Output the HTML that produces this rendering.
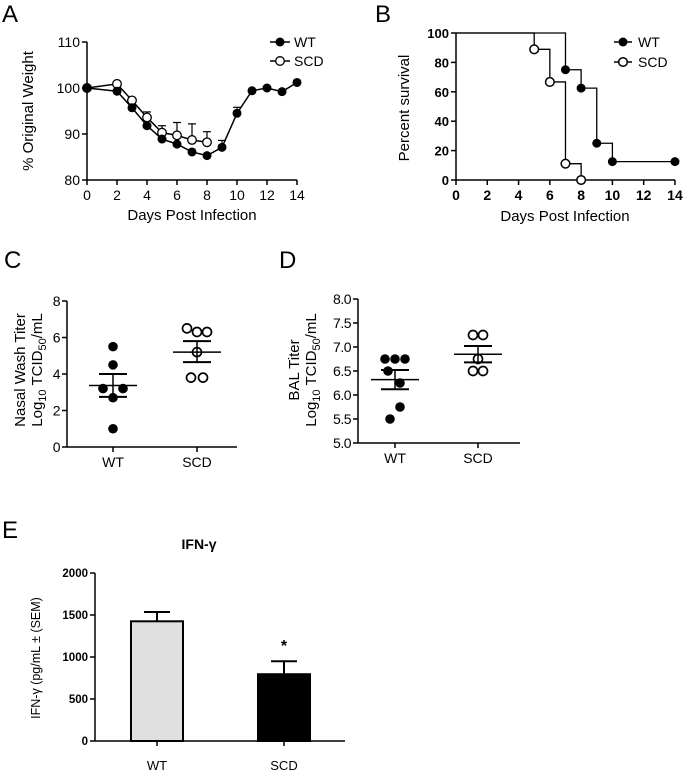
<!DOCTYPE html>
<html><head><meta charset="utf-8">
<style>
html,body{margin:0;padding:0;background:#fff;}
svg{display:block;font-family:"Liberation Sans",sans-serif;}
</style></head>
<body>
<svg id="fig" width="685" height="771" viewBox="0 0 685 771" xmlns="http://www.w3.org/2000/svg">
<g id="pA"></g>
<g id="pB"></g>
<g id="pC"></g>
<g id="pD"></g>
<g id="pE"></g>
</svg>
<script>
// Panel A data
const aDays=[0,2,3,4,5,6,7,8,9,10,11,12,13,14];
const aWT=[100,99.3,95.7,91.8,88.9,87.8,86.1,85.3,87.1,94.5,99.4,100,99.2,101.2];
const aWTerr=[0,0,0,0,0,0,0,0,1.5,1.3,0,0,0,0];
const aSCDdays=[0,2,3,4,5,6,7,8];
const aSCD=[100,100.9,97.3,93.6,90.3,89.7,88.7,88.2];
const aSCDerr=[0,0,0,1.2,1.5,2.8,3.5,2.3];
const aYTicks=[80,90,100,110];
const aXTicks=[0,2,4,6,8,10,12,14];
// Panel B data
const bWTdays=[0,7,8,9,10,14];
const bWT=[100,75,62.5,25,12.5,12.5];
const bSCDdays=[0,5,6,7,8];
const bSCD=[100,88.9,66.7,11.1,0];
const bYTicks=[0,20,40,60,80,100];
const bXTicks=[0,2,4,6,8,10,12,14];
// Panel C data
const cWT=[5.5,4.5,3.2,3.2,2.7,1.0];
const cWToff=[0,0,-1,1,0,0];
const cWTstats=[3.37,4.0,2.75];
const cSCD=[6.5,6.3,6.3,5.2,3.8,3.8];
const cSCDoff=[-1,0,1,0,-0.6,0.6];
const cSCDstats=[5.2,5.8,4.65];
const cYTicks=[0,2,4,6,8];
// Panel D data
const dWT=[6.75,6.75,6.75,6.5,6.25,5.75,5.5];
const dWToff=[-1,0,1,-0.7,0.5,0.5,-0.5];
const dWTstats=[6.32,6.52,6.12];
const dSCD=[7.25,7.25,6.75,6.5,6.5];
const dSCDoff=[-0.5,0.5,0,-0.5,0.5];
const dSCDstats=[6.85,7.02,6.68];
const dYTicks=[5.0,5.5,6.0,6.5,7.0,7.5,8.0];
// Panel E data
const eCats=["WT","SCD"];
const eVals=[1425,795];
const eErr=[110,155];
const eYTicks=[0,500,1000,1500,2000];

const NS="http://www.w3.org/2000/svg";
function el(p,tag,attrs,text){const e=document.createElementNS(NS,tag);for(const k in attrs)e.setAttribute(k,attrs[k]);if(text!==undefined)e.textContent=text;p.appendChild(e);return e;}
function line(p,x1,y1,x2,y2,w){return el(p,'line',{x1,y1,x2,y2,stroke:'#000','stroke-width':w||1.5});}

// ---------- Panel A ----------
(function(){
const g=document.getElementById('pA');
const X=d=>87+d*15, Y=v=>180-(v-80)*4.6;
let t=el(g,'text',{x:2,y:22,'font-size':24},'A');

line(g,87,42,87,180);line(g,87,180,297,180);
aYTicks.forEach(v=>{line(g,82,Y(v),87,Y(v));let tt=el(g,'text',{x:80,y:Y(v)+5,'font-size':14,'text-anchor':'end'},v);});
aXTicks.forEach(v=>{line(g,X(v),180,X(v),185);let tt=el(g,'text',{x:X(v),y:200,'font-size':14,'text-anchor':'middle'},v);});
t=el(g,'text',{x:192,y:220,'font-size':15,'text-anchor':'middle'},'Days Post Infection');

t=el(g,'text',{x:0,y:0,'font-size':15,'text-anchor':'middle',transform:'translate(33,111) rotate(-90)'},'% Original  Weight');

aSCDdays.forEach((d,i)=>{if(aSCDerr[i]>0){line(g,X(d),Y(aSCD[i]),X(d),Y(aSCD[i]+aSCDerr[i]),1.2);line(g,X(d)-4,Y(aSCD[i]+aSCDerr[i]),X(d)+4,Y(aSCD[i]+aSCDerr[i]),1.2);}});
aDays.forEach((d,i)=>{if(aWTerr[i]>0){line(g,X(d),Y(aWT[i]),X(d),Y(aWT[i]+aWTerr[i]),1.2);line(g,X(d)-4,Y(aWT[i]+aWTerr[i]),X(d)+4,Y(aWT[i]+aWTerr[i]),1.2);}});
let p=el(g,'polyline',{points:aSCDdays.map((d,i)=>X(d)+','+Y(aSCD[i])).join(' '),fill:'none',stroke:'#000','stroke-width':1.5});

p=el(g,'polyline',{points:aDays.map((d,i)=>X(d)+','+Y(aWT[i])).join(' '),fill:'none',stroke:'#000','stroke-width':1.5});

aSCDdays.forEach((d,i)=>{const c=el(g,'circle',{cx:X(d),cy:Y(aSCD[i]),r:4.3,fill:'#fff',stroke:'#000','stroke-width':1.3});});
aDays.forEach((d,i)=>{const c=el(g,'circle',{cx:X(d),cy:Y(aWT[i]),r:4.5,fill:'#000'});});
line(g,270,42,290,42);el(g,'circle',{cx:280,cy:42,r:4.5,fill:'#000'});
t=el(g,'text',{x:294,y:47,'font-size':14},'WT');
line(g,270,61,290,61);el(g,'circle',{cx:280,cy:61,r:4.3,fill:'#fff',stroke:'#000','stroke-width':1.3});
t=el(g,'text',{x:294,y:66,'font-size':14},'SCD');
})();

// ---------- Panel B ----------
(function(){
const g=document.getElementById('pB');
const X=d=>456+d*15.64, Y=v=>180-v*1.47;
let t=el(g,'text',{x:375,y:22,'font-size':24},'B');

line(g,456,33,456,180);line(g,456,180,675,180);
bYTicks.forEach(v=>{line(g,451,Y(v),456,Y(v));let tt=el(g,'text',{x:449,y:Y(v)+5,'font-size':13,'font-weight':'bold','text-anchor':'end'},v);});
bXTicks.forEach(v=>{line(g,X(v),180,X(v),185);let tt=el(g,'text',{x:X(v),y:200,'font-size':14,'font-weight':'bold','text-anchor':'middle'},v);});
t=el(g,'text',{x:565,y:221,'font-size':15,'text-anchor':'middle'},'Days Post Infection');

t=el(g,'text',{x:0,y:0,'font-size':15,'text-anchor':'middle',transform:'translate(409,108) rotate(-90)'},'Percent survival');

function steps(days,vals){let pts=[X(days[0])+','+Y(vals[0])];for(let i=1;i<days.length;i++){pts.push(X(days[i])+','+Y(vals[i-1]));pts.push(X(days[i])+','+Y(vals[i]));}return pts.join(' ');}
let p=el(g,'polyline',{points:steps(bWTdays,bWT),fill:'none',stroke:'#000','stroke-width':1.3});
p=el(g,'polyline',{points:steps(bSCDdays,bSCD),fill:'none',stroke:'#000','stroke-width':1.3});
bWTdays.forEach((d,i)=>{if(i>0){const c=el(g,'circle',{cx:X(d),cy:Y(bWT[i]),r:4.5,fill:'#000'});}});
bSCDdays.forEach((d,i)=>{if(i>0){const c=el(g,'circle',{cx:X(d),cy:Y(bSCD[i]),r:4.3,fill:'#fff',stroke:'#000','stroke-width':1.5});}});
line(g,614,42,632,42);el(g,'circle',{cx:623,cy:42,r:4.5,fill:'#000'});
t=el(g,'text',{x:638,y:47,'font-size':14},'WT');
line(g,614,62,632,62);el(g,'circle',{cx:623,cy:62,r:4.3,fill:'#fff',stroke:'#000','stroke-width':1.5});
t=el(g,'text',{x:638,y:67,'font-size':14},'SCD');
})();

// ---------- Scatter helper ----------
function scatter(g,opt){
const Y=v=>opt.y0-(v-opt.vmin)*opt.scale;
line(g,opt.ax,opt.ytop,opt.ax,opt.y0);line(g,opt.ax,opt.y0,opt.xend,opt.y0);
opt.ticks.forEach(v=>{line(g,opt.ax-5,Y(v),opt.ax,Y(v));let tt=el(g,'text',{x:opt.ax-7,y:Y(v)+5,'font-size':14,'text-anchor':'end',style:'letter-spacing:-0.5px'},opt.fmt(v));});
[[opt.xw,'WT'],[opt.xs,'SCD']].forEach(([x,l])=>{line(g,x,opt.y0,x,opt.y0+5);let tt=el(g,'text',{x:x,y:opt.y0+20,'font-size':14,'text-anchor':'middle'},l);});
opt.wt.forEach((v,i)=>{const c=el(g,'circle',{cx:opt.xw+opt.wtoff[i]*10,cy:Y(v),r:4.8,fill:'#000'});});
opt.scd.forEach((v,i)=>{const c=el(g,'circle',{cx:opt.xs+opt.scdoff[i]*10,cy:Y(v),r:4.5,fill:'#fff',stroke:'#000','stroke-width':1.7});});
[[opt.xw,opt.wts],[opt.xs,opt.scs]].forEach(([x,s])=>{
 let m=line(g,x-24,Y(s[0]),x+24,Y(s[0]),1.5);
 line(g,x-14,Y(s[1]),x+14,Y(s[1]),2);line(g,x-14,Y(s[2]),x+14,Y(s[2]),2);line(g,x,Y(s[1]),x,Y(s[2]),1.5);
});
}
// ---------- Panel C ----------
(function(){
const g=document.getElementById('pC');
let t=el(g,'text',{x:4,y:268,'font-size':24},'C');
scatter(g,{ax:67,ytop:301,y0:447,vmin:0,scale:18.25,xend:237,xw:113,xs:197,ticks:cYTicks,fmt:v=>v,wt:cWT,wtoff:cWToff,scd:cSCD,scdoff:cSCDoff,wts:cWTstats,scs:cSCDstats});
t=el(g,'text',{x:0,y:0,'font-size':15,'text-anchor':'middle',transform:'translate(25,370) rotate(-90)'},'Nasal Wash Titer');
t=el(g,'text',{x:0,y:0,'font-size':15,'text-anchor':'middle',transform:'translate(42,370) rotate(-90)'});
t.innerHTML='Log<tspan font-size="11" dy="4">10</tspan><tspan dy="-4"> TCID</tspan><tspan font-size="11" dy="4">50</tspan><tspan dy="-4">/mL</tspan>';

})();
// ---------- Panel D ----------
(function(){
const g=document.getElementById('pD');
let t=el(g,'text',{x:279,y:268,'font-size':24},'D');
scatter(g,{ax:358,ytop:299,y0:443,vmin:5,scale:48,xend:520,xw:395,xs:478,ticks:dYTicks,fmt:v=>v.toFixed(1),wt:dWT,wtoff:dWToff,scd:dSCD,scdoff:dSCDoff,wts:dWTstats,scs:dSCDstats});
t=el(g,'text',{x:0,y:0,'font-size':15,'text-anchor':'middle',transform:'translate(299,370) rotate(-90)'},'BAL Titer');
t=el(g,'text',{x:0,y:0,'font-size':15,'text-anchor':'middle',transform:'translate(316,370) rotate(-90)'});
t.innerHTML='Log<tspan font-size="11" dy="4">10</tspan><tspan dy="-4"> TCID</tspan><tspan font-size="11" dy="4">50</tspan><tspan dy="-4">/mL</tspan>';

})();
// ---------- Panel E ----------
(function(){
const g=document.getElementById('pE');
const Y=v=>741-v*0.084;
const bx=[157,284], bw=52, fills=['#e0e0e0','#000'];
let t=el(g,'text',{x:2,y:538,'font-size':24},'E');
t=el(g,'text',{x:199,y:549,'font-size':14,'font-weight':'bold','text-anchor':'middle'},'IFN-γ');
line(g,95,573,95,741);line(g,95,741,345,741);
eYTicks.forEach(v=>{line(g,90,Y(v),95,Y(v));let tt=el(g,'text',{x:88,y:Y(v)+4,'font-size':11.5,'font-weight':'bold','text-anchor':'end'},v);});
eCats.forEach((c,i)=>{
 line(g,bx[i],741,bx[i],746);
 line(g,bx[i],Y(eVals[i]),bx[i],Y(eVals[i]+eErr[i]),2);line(g,bx[i]-13,Y(eVals[i]+eErr[i]),bx[i]+13,Y(eVals[i]+eErr[i]),2);
 const r=el(g,'rect',{x:bx[i]-bw/2,y:Y(eVals[i]),width:bw,height:741-Y(eVals[i]),fill:fills[i],stroke:'#000','stroke-width':2});
 
 let tt=el(g,'text',{x:bx[i],y:770,'font-size':13,'text-anchor':'middle'},c);
});
t=el(g,'text',{x:284,y:651,'font-size':16,'font-weight':'bold','text-anchor':'middle'},'*');
t=el(g,'text',{x:0,y:0,'font-size':12.5,'text-anchor':'middle',transform:'translate(40,658) rotate(-90)'},'IFN-γ (pg/mL ± (SEM)');
})();
</script>
</body></html>
